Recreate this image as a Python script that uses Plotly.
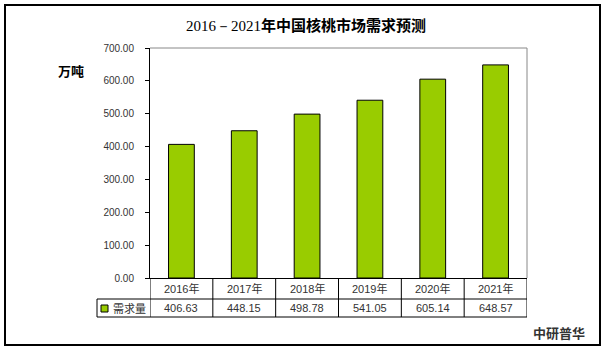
import plotly.graph_objects as go

# ---- data ----
years = ["2016年", "2017年", "2018年", "2019年", "2020年", "2021年"]
demand = [406.63, 448.15, 498.78, 541.05, 605.14, 648.57]
series_name = "需求量"
y_tick_vals = [0, 100, 200, 300, 400, 500, 600, 700]
y_tick_text = ["%.2f" % v for v in y_tick_vals]
title_num = "2016－2021"
title_cn = "年中国核桃市场需求预测"
unit_label = "万吨"
source_label = "中研普华"

# ---- layout geometry (pixels in a 608x351 page) ----
W, H = 608, 351
L, R, T, B = 150, 81, 48, 73
PW, PH = W - L - R, H - T - B


def px(x):
    return (x - L) / PW


def py(y):
    return (H - B - y) / PH


GREEN = "#99CC00"
TXT = "#333333"
SANS = "Liberation Sans, Arial, Noto Sans CJK SC"
CJK = "Noto Sans CJK SC"

fig = go.Figure()
fig.add_trace(go.Bar(
    x=years, y=demand, name=series_name, width=0.41,
    marker=dict(color=GREEN, line=dict(color="black", width=1)),
    showlegend=False,
))

shapes = []
# outer frame
shapes.append(dict(type="rect", xref="paper", yref="paper",
                   x0=px(5), x1=px(600), y0=py(345), y1=py(5),
                   line=dict(color="black", width=2), layer="above"))
# plot area top/right border (gray)
shapes.append(dict(type="line", xref="paper", yref="paper", x0=0, x1=1, y0=1, y1=1,
                   line=dict(color="#888888", width=1)))
shapes.append(dict(type="line", xref="paper", yref="paper", x0=1, x1=1, y0=0, y1=1,
                   line=dict(color="#888888", width=1)))
# table horizontal lines
for yy in (299, 317):
    shapes.append(dict(type="line", xref="paper", yref="paper",
                       x0=px(97), x1=1, y0=py(yy), y1=py(yy),
                       line=dict(color="black", width=1)))
# table vertical lines
shapes.append(dict(type="line", xref="paper", yref="paper",
                   x0=px(97), x1=px(97), y0=py(299), y1=py(317),
                   line=dict(color="black", width=1)))
for i in range(len(years) + 1):
    shapes.append(dict(type="line", xref="x", yref="paper",
                       x0=i - 0.5, x1=i - 0.5, y0=0, y1=py(317),
                       line=dict(color="black", width=1)))
# legend key
shapes.append(dict(type="rect", xref="paper", yref="paper",
                   x0=px(101), x1=px(108), y0=py(312), y1=py(305),
                   fillcolor=GREEN, line=dict(color="black", width=1)))

annotations = []
# title
annotations.append(dict(
    xref="paper", yref="paper", x=px(306), y=py(25), xanchor="center", yanchor="middle",
    showarrow=False,
    text="<span style='font-family:Liberation Serif, Times New Roman;font-weight:normal'>"
         + title_num + "</span><b>" + title_cn + "</b>",
    font=dict(family=CJK, size=15, color="black"),
))
# unit
annotations.append(dict(xref="paper", yref="paper", x=px(71), y=py(70),
                        xanchor="center", yanchor="middle", showarrow=False,
                        text="<b>" + unit_label + "</b>",
                        font=dict(family=CJK, size=13, color="black")))
# source
annotations.append(dict(xref="paper", yref="paper", x=px(559), y=py(332),
                        xanchor="center", yanchor="middle", showarrow=False,
                        text="<b>" + source_label + "</b>",
                        font=dict(family=CJK, size=13, color=TXT)))
# legend text in table
annotations.append(dict(xref="paper", yref="paper", x=px(111), y=py(308),
                        xanchor="left", yanchor="middle", showarrow=False,
                        text=series_name,
                        font=dict(family=CJK, size=11, color=TXT)))
# table cells
for yr, v in zip(years, demand):
    annotations.append(dict(xref="x", yref="paper", x=yr, y=py(288.5),
                            xanchor="center", yanchor="middle", showarrow=False,
                            text=yr, font=dict(family=SANS, size=11, color=TXT)))
    annotations.append(dict(xref="x", yref="paper", x=yr, y=py(308),
                            xanchor="center", yanchor="middle", showarrow=False,
                            text="%.2f" % v, font=dict(family=SANS, size=11, color=TXT)))

fig.update_layout(
    width=W, height=H,
    margin=dict(l=L, r=R, t=T, b=B, pad=0),
    paper_bgcolor="white", plot_bgcolor="white",
    font=dict(family=SANS, size=10, color=TXT),
    shapes=shapes, annotations=annotations,
    bargap=0.59,
    xaxis=dict(type="category", range=[-0.5, len(years) - 0.5],
               showline=True, linecolor="black", linewidth=1,
               showticklabels=False, ticks="", showgrid=False, zeroline=False,
               fixedrange=True),
    yaxis=dict(range=[0, 700], tickvals=y_tick_vals, ticktext=y_tick_text,
               showline=True, linecolor="black", linewidth=1,
               ticks="outside", ticklen=4, tickcolor="black",
               ticklabelstandoff=9,
               tickfont=dict(family=SANS, size=10, color=TXT),
               showgrid=False, zeroline=False, fixedrange=True),
)

fig.write_html("out.html", config={"displayModeBar": False})
